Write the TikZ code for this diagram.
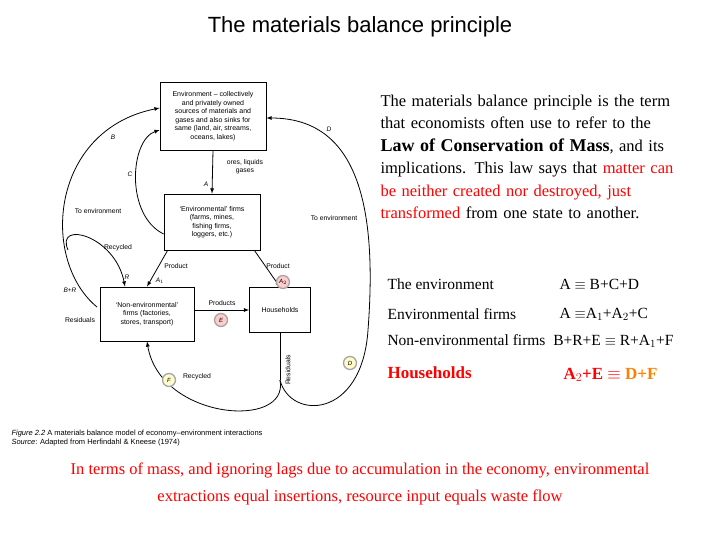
\documentclass[tikz,border=0pt]{standalone}
\usepackage{fontspec}
\setmainfont{Liberation Serif}
\setsansfont{Liberation Sans}
\usetikzlibrary{calc,arrows,positioning}
\tikzset{box/.style={draw,thick,align=center,inner sep=1pt,font=\sffamily\fontsize{7}{8.5}\selectfont},
  lab/.style={font=\sffamily\fontsize{6.8}{8}\selectfont,align=center},
  ilab/.style={font=\sffamily\itshape\fontsize{6.5}{7}\selectfont},
  tag/.style={circle,draw=gray!70,line width=1.3pt,minimum size=13pt,inner sep=0pt,font=\sffamily\itshape\fontsize{6}{6}\selectfont},
  flow/.style={thick,-latex},
  txt/.style={anchor=west,font=\fontsize{15.5}{20}\selectfont}}

\begin{document}
\begin{tikzpicture}[x=1pt,y=-1pt]
\useasboundingbox (0,0) rectangle (720,540);

% Title
\node (title) at (360,27) {\sffamily\fontsize{22}{24}\selectfont The materials balance principle};

% Boxes
\node[box,minimum width=106pt,minimum height=68pt] (env) at (213,116) {Environment -- collectively\\and privately owned\\sources of materials and\\gases and also sinks for\\same (land, air, streams,\\oceans, lakes)};
\node[box,minimum width=96pt,minimum height=56pt] (ef) at (212,222) {`Environmental' firms\\(farms, mines,\\fishing firms,\\loggers, etc.)};
\node[box,minimum width=94pt,minimum height=54pt] (nef) at (147,314) {`Non-environmental'\\firms (factories,\\stores, transport)};
\node[box,minimum width=61pt,minimum height=45pt] (hh) at (280,310) {Households};

% Helper points
\coordinate (hhbot) at (280,380);
\coordinate (bstart) at (97,307);

% Flows
\draw[flow] (env.south) -- (ef.north);
\draw[flow] (ef.west) ++(0,12) .. controls (125,215) and (130,140) .. (env.west |- 0,130);
\draw[flow] (bstart) .. controls (40,260) and (50,130) .. (env.west |- 0,108);
\draw[flow] (68,250) .. controls (55,220) and (115,235) .. (nef.north -| 125,0);
\draw[flow] (ef.south west) ++(4,0) -- (nef.north);
\draw[flow] (ef.south east) ++(-6,0) -- (hh.north);
\draw[flow] (nef.east |- 0,310) -- (hh.west |- 0,310);
\draw (hh.south) -- (hhbot);
\draw[flow] (hhbot) .. controls (290,430) and (160,420) .. (nef.south);
\draw[flow] (hhbot) .. controls (290,420) and (362,420) .. (368,330) .. controls (378,200) and (355,118) .. (env.east |- 0,118);

% Labels
\node[lab] (ores) at (245,167) {ores, liquids\\gases};
\node[ilab] (la) at (206,184) {A};
\node[ilab] (lc) at (130,174) {C};
\node[ilab] (lb) at (113,137) {B};
\node[ilab] (ld) at (329,129) {D};
\node[lab] (toenv1) at (98,211) {To environment};
\node[lab] (toenv2) at (334,218) {To environment};
\node[lab] (rec1) at (118,248) {Recycled};
\node[ilab] (lr) at (127,277) {R};
\node[ilab] (lbr) at (70,290) {B+R};
\node[lab] (resid1) at (80,320) {Residuals};
\node[lab] (prod1) at (176,266) {Product};
\node[ilab] (la1) at (160,281) {A$_1$};
\node[lab] (prod2) at (278,266) {Product};
\node[lab] (prods) at (222,303) {Products};
\node[lab,rotate=90] (resid2) at (288,370) {Residuals};
\node[lab] (rec2) at (197,377) {Recycled};

% Tags
\node[tag,fill=red!20] (ta2) at (283,282) {A$_2$};
\node[tag,fill=red!20] (te) at (221,320) {E};
\node[tag,fill=yellow!20] (tf) at (169,380) {F};
\node[tag,fill=yellow!20] (td) at (350,363) {D};

% Caption
\node[anchor=west,font=\sffamily\fontsize{7.5}{9}\selectfont,align=left] (cap) at (8,438) {\textit{Figure 2.2} A materials balance model of economy--environment interactions\\\textit{Source}: Adapted from Herfindahl \& Kneese (1974)};

% Right text
\node[txt,text width=330pt,align=left,font=\fontsize{16.5}{22.5}\selectfont] (para) at (377,157) {The materials balance principle is the term\\that economists often use to refer to the\\{\fontsize{18}{22}\selectfont\bfseries Law of Conservation of Mass}, and its\\implications. This law says that \textcolor{red}{matter can}\\\textcolor{red}{be neither created nor destroyed, just}\\\textcolor{red}{transformed} from one state to another.};
\node[txt] (t1) at (384,284) {The environment};
\node[txt] (e1) at (556,284) {A $\equiv$ B+C+D};
\node[txt] (t2) at (384,314) {Environmental firms};
\node[txt] (e2) at (556,314) {A $\equiv$A$_1$+A$_2$+C};
\node[txt] (t3) at (384,341) {Non-environmental firms\ \ B+R+E $\equiv$ R+A$_1$+F};
\node[txt,text=red,font=\bfseries\fontsize{17}{20}\selectfont] (t4) at (384,373) {Households};
\node[txt,text=red,font=\bfseries\fontsize{17}{20}\selectfont] (e4) at (560,375) {A$_2$+E $\equiv$ \textcolor{orange}{D+F}};

% Bottom note
\node[text=red,align=center,font=\fontsize{16.5}{27}\selectfont] (note) at (360,484) {In terms of mass, and ignoring lags due to accumulation in the economy, environmental\\extractions equal insertions, resource input equals waste flow};
\end{tikzpicture}
\end{document}
